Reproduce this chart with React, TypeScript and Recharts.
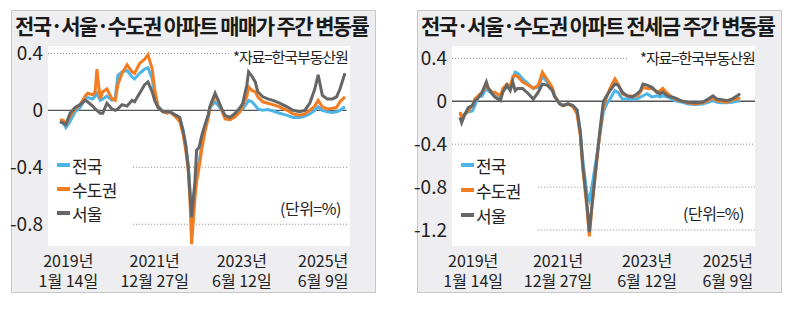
import React from "react";
import { LineChart, Line, XAxis, YAxis, CartesianGrid, ReferenceLine } from "recharts";

// 주 단위 인덱스 (2019년 1월 14일 = 0)
const saleWeeks = [
  0, 4, 7, 12, 18, 24, 30, 33, 39, 42, 44, 48, 51, 56, 62, 66, 69, 74, 80, 86, 89, 95, 101, 105, 110,
  113, 117, 123, 128, 131, 137, 143, 147, 150, 153, 155, 157, 161, 163, 166, 169, 173, 177, 179, 185,
  188, 193, 197, 203, 209, 215, 218, 223, 225, 229, 233, 236, 242, 248, 254, 262, 271, 278, 286, 292,
  298, 304, 308, 313, 319, 325, 330, 334, 340,
];
const saleNation = [
  -0.08, -0.09, -0.12, -0.08, -0.01, 0.02, 0.08, 0.09, 0.08, 0.1, 0.12, 0.07, 0.08, 0.1, 0.07, 0.09,
  0.245, 0.27, 0.28, 0.235, 0.22, 0.26, 0.29, 0.3, 0.22, 0.12, 0.03, -0.01, -0.02, -0.01, -0.035,
  -0.06, -0.14, -0.25, -0.38, -0.55, -0.72, -0.55, -0.42, -0.36, -0.25, -0.12, -0.03, 0.02, 0.06,
  0.04, 0.0, -0.05, -0.05, -0.03, 0.0, 0.01, 0.05, 0.07, 0.06, 0.035, 0.01, 0.0, 0.005, -0.005, -0.02,
  -0.035, -0.05, -0.05, -0.04, -0.025, 0.0, 0.025, 0.0, -0.01, -0.015, -0.01, 0.0, 0.025,
];
const saleCapital = [
  -0.065, -0.07, -0.1, -0.04, 0.01, 0.04, 0.1, 0.12, 0.11, 0.13, 0.29, 0.08, 0.13, 0.15, 0.08, 0.07,
  0.18, 0.26, 0.32, 0.27, 0.26, 0.33, 0.36, 0.39, 0.29, 0.15, 0.02, -0.01, -0.02, -0.01, -0.04, -0.08,
  -0.17, -0.28, -0.42, -0.62, -0.94, -0.62, -0.5, -0.4, -0.28, -0.15, -0.05, 0.02, 0.1, 0.08, 0.0,
  -0.06, -0.065, -0.045, -0.01, 0.035, 0.1, 0.165, 0.14, 0.13, 0.095, 0.06, 0.05, 0.04, 0.025, 0.0,
  -0.025, -0.035, -0.025, 0.0, 0.03, 0.07, 0.025, 0.01, 0.015, 0.02, 0.06, 0.095,
];
const saleSeoul = [
  -0.08, -0.09, -0.1, -0.02, 0.02, 0.04, 0.07, 0.06, 0.03, 0.01, 0.0, -0.02, -0.02, 0.05, 0.01, 0.0,
  0.01, 0.04, 0.03, 0.07, 0.06, 0.12, 0.18, 0.2, 0.13, 0.07, 0.02, -0.01, -0.01, -0.01, -0.03, -0.05,
  -0.15, -0.24, -0.4, -0.58, -0.75, -0.5, -0.28, -0.26, -0.18, -0.1, -0.03, 0.03, 0.12, 0.08, 0.01,
  -0.035, -0.05, -0.02, 0.02, 0.05, 0.18, 0.27, 0.24, 0.2, 0.13, 0.095, 0.08, 0.07, 0.05, 0.025, 0.0,
  -0.01, 0.0, 0.05, 0.15, 0.25, 0.105, 0.08, 0.08, 0.095, 0.15, 0.26,
];

const jeonseWeeks = [
  0, 2, 6, 10, 15, 18, 22, 27, 32, 34, 39, 42, 49, 52, 57, 61, 64, 67, 70, 76, 83, 89, 95, 100, 106,
  112, 115, 121, 125, 131, 137, 142, 146, 149, 154, 157, 160, 166, 170, 174, 178, 182, 188, 192, 197,
  203, 209, 215, 219, 222, 227, 233, 239, 243, 246, 252, 261, 270, 277, 285, 294, 301, 307, 312, 318,
  324, 330, 336, 340,
];
const jeonseNation = [
  -0.12, -0.135, -0.12, -0.1, -0.09, -0.04, 0.04, 0.05, 0.13, 0.1, 0.07, 0.05, 0.02, 0.1, 0.13, 0.15,
  0.21, 0.27, 0.26, 0.21, 0.16, 0.12, 0.13, 0.23, 0.18, 0.12, 0.05, -0.02, -0.04, -0.025, -0.04,
  -0.08, -0.28, -0.55, -0.86, -0.92, -0.8, -0.51, -0.3, -0.1, -0.025, 0.02, 0.1, 0.08, 0.02, 0.02,
  0.02, 0.02, 0.04, 0.05, 0.07, 0.04, 0.05, 0.04, 0.05, 0.04, 0.005, -0.01, -0.025, -0.03, -0.025,
  -0.01, 0.005, -0.01, -0.015, -0.015, -0.01, 0.0, 0.005,
];
const jeonseCapital = [
  -0.1, -0.15, -0.12, -0.09, -0.04, 0.02, 0.05, 0.085, 0.15, 0.12, 0.085, 0.085, 0.05, 0.12, 0.16,
  0.13, 0.23, 0.24, 0.23, 0.18, 0.15, 0.12, 0.15, 0.27, 0.2, 0.13, 0.05, -0.025, -0.04, -0.025, -0.05,
  -0.12, -0.32, -0.62, -1.0, -1.26, -1.0, -0.56, -0.28, -0.05, 0.04, 0.12, 0.21, 0.16, 0.07, 0.05,
  0.05, 0.05, 0.085, 0.13, 0.12, 0.12, 0.085, 0.1, 0.12, 0.07, 0.02, 0.0, -0.015, -0.025, -0.015,
  0.005, 0.03, 0.005, 0.0, -0.01, 0.015, 0.02, 0.035,
];
const jeonseSeoul = [
  -0.15, -0.2, -0.12, -0.06, -0.04, 0.005, 0.03, 0.085, 0.18, 0.13, 0.07, 0.04, 0.006, 0.085, 0.15,
  0.1, 0.18, 0.1, 0.12, 0.12, 0.07, 0.02, 0.085, 0.16, 0.15, 0.1, 0.04, -0.025, -0.04, -0.025, -0.04,
  -0.08, -0.29, -0.6, -0.95, -1.22, -0.98, -0.54, -0.26, 0.0, 0.05, 0.1, 0.16, 0.15, 0.085, 0.05,
  0.04, 0.07, 0.1, 0.16, 0.15, 0.13, 0.085, 0.07, 0.085, 0.05, 0.03, 0.0, -0.01, -0.015, -0.01, 0.02,
  0.05, 0.02, 0.015, 0.005, 0.02, 0.05, 0.07,
];

const seriesNames = ["전국", "수도권", "서울"];
const seriesColors = ["#4db4e8", "#f47c20", "#666666"];
const dateLabels = [
  ["2019년", "1월 14일"],
  ["2021년", "12월 27일"],
  ["2023년", "6월 12일"],
  ["2025년", "6월 9일"],
];
const saleTickWeeks = [10, 113, 217, 314];
const jeonseTickWeeks = [16, 119, 227, 325];
const saleYTicks = [0.4, 0, -0.4, -0.8];
const jeonseYTicks = [0.4, 0, -0.4, -0.8, -1.2];

const KR = "'Noto Sans CJK KR', sans-serif";
const NUM = "'Liberation Sans Narrow', 'Noto Sans CJK KR', sans-serif";

interface GridSeg { y: number; from: number; to: number; solid?: boolean; }

interface PanelProps {
  left: number;
  title: string;
  weeks: number[];
  nation: number[];
  capital: number[];
  seoul: number[];
  xDomain: [number, number];
  yDomain: [number, number];
  xTicks: number[];
  yTicks: number[];
  grid: GridSeg[];
  chartLeft: number;
  marginLeft: number;
  marginRight: number;
  legendX: number;
  legendY: number[];
  sourceX: number;
  sourceY: number;
  unitX: number;
  unitY: number;
}

function Panel(p: PanelProps) {
  const rows = p.weeks.map((w, i) => ({
    week: w,
    nation: p.nation[i],
    capital: p.capital[i],
    seoul: p.seoul[i],
  }));
  const keys = ["nation", "capital", "seoul"];

  // 날짜 두 줄
  const XTick = (props: any) => {
    const idx = p.xTicks.indexOf(props.payload.value);
    const lines = dateLabels[idx] || ["", ""];
    return (
      <text
        x={props.x}
        y={props.y + 19}
        textAnchor="middle"
        fontFamily={NUM}
        fontSize={16}
        fill="#222"
      >
        <tspan x={props.x}>{lines[0]}</tspan>
        <tspan x={props.x} dy={19.5}>{lines[1]}</tspan>
      </text>
    );
  };

  return (
    <>
      <div
        style={{
          position: "absolute",
          left: p.left,
          top: 10,
          width: 365,
          height: 283,
          boxSizing: "border-box",
          background: "#eeeef0",
          border: "1px solid #c8c8c8",
        }}
      />
      <div
        style={{
          position: "absolute",
          left: p.left + 4,
          top: 11,
          fontFamily: KR,
          fontSize: 21,
          fontWeight: 700,
          letterSpacing: -1.6,
          color: "#1a1a1a",
          whiteSpace: "nowrap",
          lineHeight: "29px",
        }}
      >
        {p.title}
      </div>
      <div style={{ position: "absolute", left: p.chartLeft, top: 0 }}>
        <LineChart
          width={380}
          height={300}
          data={rows}
          margin={{ top: 46, right: p.marginRight, bottom: 5, left: p.marginLeft }}
        >
          <CartesianGrid horizontal={false} vertical={false} fill="#ffffff" stroke="none" />
          <XAxis
            dataKey="week"
            type="number"
            domain={p.xDomain}
            allowDataOverflow
            ticks={p.xTicks}
            tick={XTick}
            tickLine={false}
            axisLine={false}
            tickSize={0}
            height={49}
            interval={0}
          />
          <YAxis
            type="number"
            domain={p.yDomain}
            allowDataOverflow
            ticks={p.yTicks}
            interval={0}
            width={40}
            tickLine={false}
            axisLine={false}
            tickSize={0}
            tickMargin={5}
            tickFormatter={(v: number) => (v === 0 ? "0" : v.toFixed(1))}
            tick={{ fill: "#222", fontSize: 19, fontFamily: NUM }}
          />
          {p.grid.map((g, i) => (
            <ReferenceLine
              key={i}
              segment={[
                { x: g.from, y: g.y },
                { x: g.to, y: g.y },
              ]}
              stroke={g.solid ? "#555" : "#888"}
              strokeWidth={g.solid ? 1.3 : 1}
              strokeDasharray={g.solid ? undefined : "1 2"}
              ifOverflow="visible"
            />
          ))}
          {keys.map((k, i) => (
            <Line
              key={k}
              dataKey={k}
              type="linear"
              stroke={seriesColors[i]}
              strokeWidth={3}
              dot={false}
              isAnimationActive={false}
            />
          ))}
        </LineChart>
      </div>
      {seriesNames.map((name, i) => (
        <div
          key={name}
          style={{
            position: "absolute",
            left: p.legendX,
            top: p.legendY[i] - 10,
            height: 20,
            display: "flex",
            alignItems: "center",
            fontFamily: KR,
            fontSize: 17,
            letterSpacing: -0.8,
            color: "#222",
            whiteSpace: "nowrap",
          }}
        >
          <span style={{ display: "inline-block", width: 13, height: 4, background: seriesColors[i], marginRight: 2 }} />
          {name}
        </div>
      ))}
      <div
        style={{
          position: "absolute",
          left: p.sourceX,
          top: p.sourceY - 10,
          lineHeight: "20px",
          fontFamily: KR,
          fontSize: 15,
          letterSpacing: -1.1,
          color: "#222",
          whiteSpace: "nowrap",
        }}
      >
        *자료=한국부동산원
      </div>
      <div
        style={{
          position: "absolute",
          left: p.unitX,
          top: p.unitY - 11,
          lineHeight: "22px",
          fontFamily: KR,
          fontSize: 16,
          letterSpacing: -0.5,
          color: "#222",
          whiteSpace: "nowrap",
        }}
      >
        (단위=%)
      </div>
    </>
  );
}

export default function App() {
  return (
    <div style={{ position: "absolute", left: 0, top: 0, width: 791, height: 324, background: "#fff", overflow: "hidden" }}>
      <Panel
        left={11}
        title="전국·서울·수도권 아파트 매매가 주간 변동률"
        weeks={saleWeeks}
        nation={saleNation}
        capital={saleCapital}
        seoul={saleSeoul}
        xDomain={[-14.3, 346]}
        yDomain={[-0.953, 0.452]}
        xTicks={saleTickWeeks}
        yTicks={saleYTicks}
        grid={[
          { y: 0.4, from: -14.3, to: 203 },
          { y: -0.4, from: 87, to: 344 },
          { y: -0.8, from: 87, to: 344 },
          { y: 0, from: -14.3, to: 342, solid: true },
        ]}
        chartLeft={0}
        marginLeft={8}
        marginRight={30}
        legendX={57}
        legendY={[165, 189, 213]}
        sourceX={233}
        sourceY={57}
        unitX={280}
        unitY={208}
      />
      <Panel
        left={417}
        title="전국·서울·수도권 아파트 전세금 주간 변동률"
        weeks={jeonseWeeks}
        nation={jeonseNation}
        capital={jeonseCapital}
        seoul={jeonseSeoul}
        xDomain={[-9.7, 358]}
        yDomain={[-1.349, 0.515]}
        xTicks={jeonseTickWeeks}
        yTicks={jeonseYTicks}
        grid={[
          { y: 0.4, from: -9.7, to: 204 },
          { y: -0.4, from: -9.7, to: 358 },
          { y: -0.8, from: 95, to: 358 },
          { y: -1.2, from: 95, to: 358 },
          { y: 0, from: -9.7, to: 358, solid: true },
        ]}
        chartLeft={400}
        marginLeft={12}
        marginRight={25}
        legendX={461}
        legendY={[165, 190, 215]}
        sourceX={640}
        sourceY={58}
        unitX={683}
        unitY={213}
      />
    </div>
  );
}
